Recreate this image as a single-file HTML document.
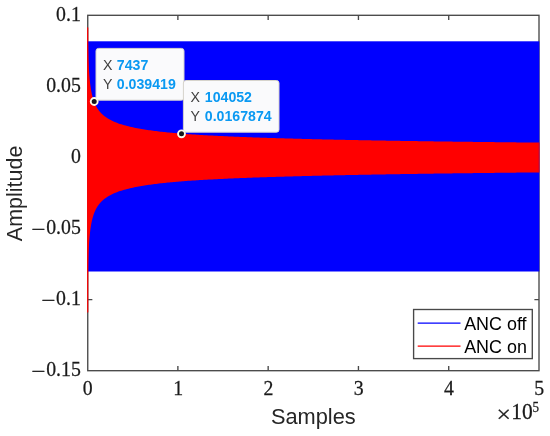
<!DOCTYPE html>
<html><head><meta charset="utf-8"><title>ANC plot</title>
<style>
html,body{margin:0;padding:0;background:#fff;}
body{width:550px;height:436px;overflow:hidden;}
svg{display:block;}
.tk{font-family:"Liberation Serif",serif;font-size:19.8px;fill:#1a1a1a;stroke:#1a1a1a;stroke-width:0.25px;}
.lb{font-family:"Liberation Sans",sans-serif;font-size:21.8px;fill:#262626;}
.lg{font-family:"Liberation Sans",sans-serif;font-size:17.9px;fill:#000;}
.tt{font-family:"Liberation Sans",sans-serif;font-size:14.15px;fill:#404040;}
.tv{font-weight:bold;fill:#0a99f2;}
</style></head><body>
<svg width="550" height="436" viewBox="0 0 550 436">
<rect width="550" height="436" fill="#fff"/>
<rect x="87.75" y="15.3" width="451.25" height="355.4" fill="#fff" stroke="#484848" stroke-width="1.35"/>
<path d="M177.88,370.7v-4.6M177.88,15.3v4.6" stroke="#484848" stroke-width="1.35" fill="none"/>
<path d="M268.16,370.7v-4.6M268.16,15.3v4.6" stroke="#484848" stroke-width="1.35" fill="none"/>
<path d="M358.44,370.7v-4.6M358.44,15.3v4.6" stroke="#484848" stroke-width="1.35" fill="none"/>
<path d="M448.72,370.7v-4.6M448.72,15.3v4.6" stroke="#484848" stroke-width="1.35" fill="none"/>
<path d="M87.75,86.42h4.6M539.0,86.42h-4.6" stroke="#484848" stroke-width="1.35" fill="none"/>
<path d="M87.75,157.50h4.6M539.0,157.50h-4.6" stroke="#484848" stroke-width="1.35" fill="none"/>
<path d="M87.75,228.58h4.6M539.0,228.58h-4.6" stroke="#484848" stroke-width="1.35" fill="none"/>
<path d="M87.75,299.66h4.6M539.0,299.66h-4.6" stroke="#484848" stroke-width="1.35" fill="none"/>
<rect x="87.95" y="41.3" width="451.4" height="230.2" fill="#0000ff"/>
<rect x="87.2" y="27.5" width="1.1" height="284.9" fill="#ff0000"/>
<path d="M87.30,27.57 L87.39,27.57 L87.48,27.57 L87.57,27.57 L87.66,27.57 L87.75,27.57 L87.84,31.16 L87.94,37.30 L88.03,42.39 L88.12,46.69 L88.21,50.41 L88.30,53.66 L88.39,56.54 L88.48,59.12 L88.57,61.45 L88.66,63.58 L88.75,65.52 L88.84,67.30 L88.93,68.96 L89.02,70.49 L89.11,71.92 L89.21,73.26 L89.30,74.52 L89.39,75.71 L89.48,76.83 L89.57,77.89 L89.66,78.89 L89.75,79.84 L89.84,80.75 L89.93,81.62 L90.02,82.45 L90.11,83.24 L90.20,84.00 L90.29,84.73 L90.38,85.43 L90.48,86.10 L90.57,86.75 L90.66,87.37 L90.75,87.97 L90.84,88.56 L90.93,89.12 L91.02,89.66 L91.11,90.19 L91.20,90.70 L91.29,91.20 L91.38,91.68 L91.47,92.14 L91.56,92.60 L91.66,93.04 L91.75,93.47 L91.84,93.88 L91.93,94.29 L92.02,94.68 L92.11,95.07 L92.20,95.45 L92.29,95.81 L92.38,96.17 L92.47,96.52 L92.56,96.87 L92.65,97.20 L92.74,97.53 L92.83,97.85 L92.93,98.16 L93.02,98.47 L93.11,98.77 L93.20,99.06 L93.29,99.35 L93.38,99.63 L93.47,99.91 L93.56,100.18 L93.65,100.45 L93.74,100.71 L93.83,100.96 L93.92,101.22 L94.01,101.46 L94.11,101.71 L94.20,101.94 L94.29,102.18 L94.38,102.41 L94.47,102.64 L94.56,102.86 L94.65,103.08 L94.74,103.29 L94.83,103.51 L94.92,103.71 L95.01,103.92 L95.10,104.12 L95.19,104.32 L95.28,104.52 L95.38,104.71 L95.47,104.90 L95.56,105.09 L95.65,105.27 L95.74,105.46 L95.83,105.64 L95.92,105.81 L96.01,105.99 L96.10,106.16 L96.19,106.33 L96.28,106.50 L96.37,106.66 L96.46,106.83 L96.55,106.99 L96.65,107.15 L96.74,107.31 L96.83,107.46 L96.92,107.61 L97.01,107.77 L97.10,107.92 L97.19,108.06 L97.28,108.21 L97.37,108.35 L97.46,108.50 L97.55,108.64 L97.64,108.78 L97.73,108.91 L97.83,109.05 L97.92,109.18 L98.01,109.32 L98.10,109.45 L98.19,109.58 L98.28,109.71 L98.37,109.83 L98.46,109.96 L98.55,110.08 L98.64,110.21 L98.73,110.33 L98.82,110.45 L98.91,110.57 L99.00,110.69 L99.10,110.80 L99.19,110.92 L99.28,111.03 L99.37,111.15 L99.46,111.26 L99.55,111.37 L99.64,111.48 L99.73,111.59 L99.82,111.70 L99.91,111.80 L100.00,111.91 L100.09,112.01 L100.18,112.12 L100.27,112.22 L100.37,112.32 L100.46,112.42 L100.55,112.52 L100.64,112.62 L100.73,112.72 L100.82,112.82 L100.91,112.92 L101.00,113.01 L101.09,113.11 L101.18,113.20 L101.27,113.29 L101.36,113.39 L101.45,113.48 L101.55,113.57 L101.64,113.66 L101.73,113.75 L101.82,113.84 L101.91,113.93 L102.00,114.01 L102.09,114.10 L102.18,114.18 L102.27,114.27 L102.36,114.35 L102.45,114.44 L102.54,114.52 L102.63,114.60 L102.72,114.69 L102.82,114.77 L102.91,114.85 L103.00,114.93 L103.09,115.01 L103.18,115.09 L103.27,115.16 L103.36,115.24 L103.45,115.32 L103.54,115.39 L103.63,115.47 L103.72,115.55 L103.81,115.62 L103.90,115.69 L103.99,115.77 L104.09,115.84 L104.18,115.91 L104.27,115.99 L104.36,116.06 L104.45,116.13 L104.54,116.20 L104.63,116.27 L104.72,116.34 L104.81,116.41 L104.90,116.48 L104.99,116.54 L105.08,116.61 L105.17,116.68 L105.27,116.75 L105.36,116.81 L106.81,117.82 L108.25,118.73 L109.70,119.56 L111.15,120.32 L112.60,121.02 L114.05,121.67 L115.50,122.28 L116.95,122.85 L118.40,123.38 L119.85,123.88 L121.30,124.35 L122.75,124.79 L124.20,125.21 L125.65,125.61 L127.10,125.99 L128.54,126.36 L129.99,126.70 L131.44,127.03 L132.89,127.35 L134.34,127.65 L135.79,127.95 L137.24,128.23 L138.69,128.50 L140.14,128.76 L141.59,129.01 L143.04,129.25 L144.49,129.48 L145.94,129.71 L147.39,129.93 L148.84,130.14 L150.28,130.34 L151.73,130.54 L153.18,130.74 L154.63,130.92 L156.08,131.11 L157.53,131.28 L158.98,131.46 L160.43,131.63 L161.88,131.79 L163.33,131.95 L164.78,132.10 L166.23,132.26 L167.68,132.40 L169.13,132.55 L170.57,132.69 L172.02,132.83 L173.47,132.96 L174.92,133.10 L176.37,133.22 L177.82,133.35 L179.27,133.48 L180.72,133.60 L182.17,133.71 L183.62,133.81 L185.07,133.92 L186.52,134.02 L187.97,134.13 L189.42,134.23 L190.87,134.32 L192.31,134.42 L193.76,134.51 L195.21,134.61 L196.66,134.70 L198.11,134.79 L199.56,134.88 L201.01,134.96 L202.46,135.05 L203.91,135.13 L205.36,135.22 L206.81,135.30 L208.26,135.38 L209.71,135.46 L211.16,135.53 L212.61,135.61 L214.05,135.69 L215.50,135.76 L216.95,135.83 L218.40,135.91 L219.85,135.98 L221.30,136.05 L222.75,136.12 L224.20,136.18 L225.65,136.25 L227.10,136.32 L228.55,136.38 L230.00,136.45 L231.45,136.51 L232.90,136.57 L234.34,136.64 L235.79,136.70 L237.24,136.76 L238.69,136.82 L240.14,136.88 L241.59,136.94 L243.04,136.99 L244.49,137.05 L245.94,137.11 L247.39,137.16 L248.84,137.22 L250.29,137.27 L251.74,137.32 L253.19,137.38 L254.64,137.43 L256.08,137.48 L257.53,137.53 L258.98,137.58 L260.43,137.63 L261.88,137.68 L263.33,137.73 L264.78,137.78 L266.23,137.83 L267.68,137.88 L269.13,137.92 L270.58,137.97 L272.03,138.02 L273.48,138.06 L274.93,138.11 L276.37,138.15 L277.82,138.20 L279.27,138.24 L280.72,138.28 L282.17,138.33 L283.62,138.37 L285.07,138.41 L286.52,138.45 L287.97,138.49 L289.42,138.54 L290.87,138.58 L292.32,138.62 L293.77,138.66 L295.22,138.70 L296.67,138.74 L298.11,138.77 L299.56,138.81 L301.01,138.85 L302.46,138.89 L303.91,138.93 L305.36,138.96 L306.81,139.00 L308.26,139.04 L309.71,139.07 L311.16,139.11 L312.61,139.14 L314.06,139.18 L315.51,139.21 L316.96,139.25 L318.40,139.28 L319.85,139.32 L321.30,139.35 L322.75,139.38 L324.20,139.42 L325.65,139.45 L327.10,139.48 L328.55,139.52 L330.00,139.55 L331.45,139.58 L332.90,139.61 L334.35,139.64 L335.80,139.68 L337.25,139.71 L338.70,139.74 L340.14,139.77 L341.59,139.80 L343.04,139.83 L344.49,139.86 L345.94,139.89 L347.39,139.92 L348.84,139.95 L350.29,139.98 L351.74,140.00 L353.19,140.03 L354.64,140.06 L356.09,140.09 L357.54,140.12 L358.99,140.15 L360.43,140.17 L361.88,140.20 L363.33,140.23 L364.78,140.26 L366.23,140.28 L367.68,140.31 L369.13,140.34 L370.58,140.36 L372.03,140.39 L373.48,140.41 L374.93,140.44 L376.38,140.47 L377.83,140.49 L379.28,140.52 L380.73,140.54 L382.17,140.57 L383.62,140.59 L385.07,140.62 L386.52,140.64 L387.97,140.67 L389.42,140.69 L390.87,140.71 L392.32,140.74 L393.77,140.76 L395.22,140.79 L396.67,140.81 L398.12,140.83 L399.57,140.86 L401.02,140.88 L402.46,140.90 L403.91,140.92 L405.36,140.95 L406.81,140.97 L408.26,140.99 L409.71,141.01 L411.16,141.04 L412.61,141.06 L414.06,141.08 L415.51,141.10 L416.96,141.12 L418.41,141.15 L419.86,141.17 L421.31,141.19 L422.76,141.21 L424.20,141.23 L425.65,141.25 L427.10,141.27 L428.55,141.29 L430.00,141.31 L431.45,141.33 L432.90,141.35 L434.35,141.38 L435.80,141.40 L437.25,141.42 L438.70,141.44 L440.15,141.46 L441.60,141.47 L443.05,141.49 L444.49,141.51 L445.94,141.53 L447.39,141.55 L448.84,141.57 L450.29,141.59 L451.74,141.61 L453.19,141.63 L454.64,141.65 L456.09,141.67 L457.54,141.69 L458.99,141.70 L460.44,141.72 L461.89,141.74 L463.34,141.76 L464.79,141.78 L466.23,141.79 L467.68,141.81 L469.13,141.83 L470.58,141.85 L472.03,141.87 L473.48,141.88 L474.93,141.90 L476.38,141.92 L477.83,141.94 L479.28,141.95 L480.73,141.97 L482.18,141.99 L483.63,142.00 L485.08,142.02 L486.52,142.04 L487.97,142.06 L489.42,142.07 L490.87,142.09 L492.32,142.11 L493.77,142.12 L495.22,142.14 L496.67,142.15 L498.12,142.17 L499.57,142.19 L501.02,142.20 L502.47,142.22 L503.92,142.24 L505.37,142.25 L506.82,142.27 L508.26,142.28 L509.71,142.30 L511.16,142.31 L512.61,142.33 L514.06,142.34 L515.51,142.36 L516.96,142.38 L518.41,142.39 L519.86,142.41 L521.31,142.42 L522.76,142.44 L524.21,142.45 L525.66,142.47 L527.11,142.48 L528.55,142.50 L530.00,142.51 L531.45,142.53 L532.90,142.54 L534.35,142.55 L535.80,142.57 L537.25,142.58 L538.70,142.60 L538.70,172.40 L537.25,172.42 L535.80,172.43 L534.35,172.45 L532.90,172.46 L531.45,172.47 L530.00,172.49 L528.55,172.50 L527.11,172.52 L525.66,172.53 L524.21,172.55 L522.76,172.56 L521.31,172.58 L519.86,172.59 L518.41,172.61 L516.96,172.62 L515.51,172.64 L514.06,172.66 L512.61,172.67 L511.16,172.69 L509.71,172.70 L508.26,172.72 L506.82,172.73 L505.37,172.75 L503.92,172.76 L502.47,172.78 L501.02,172.80 L499.57,172.81 L498.12,172.83 L496.67,172.85 L495.22,172.86 L493.77,172.88 L492.32,172.89 L490.87,172.91 L489.42,172.93 L487.97,172.94 L486.52,172.96 L485.08,172.98 L483.63,173.00 L482.18,173.01 L480.73,173.03 L479.28,173.05 L477.83,173.06 L476.38,173.08 L474.93,173.10 L473.48,173.12 L472.03,173.13 L470.58,173.15 L469.13,173.17 L467.68,173.19 L466.23,173.21 L464.79,173.22 L463.34,173.24 L461.89,173.26 L460.44,173.28 L458.99,173.30 L457.54,173.31 L456.09,173.33 L454.64,173.35 L453.19,173.37 L451.74,173.39 L450.29,173.41 L448.84,173.43 L447.39,173.45 L445.94,173.47 L444.49,173.49 L443.05,173.51 L441.60,173.53 L440.15,173.54 L438.70,173.56 L437.25,173.58 L435.80,173.60 L434.35,173.62 L432.90,173.65 L431.45,173.67 L430.00,173.69 L428.55,173.71 L427.10,173.73 L425.65,173.75 L424.20,173.77 L422.76,173.79 L421.31,173.81 L419.86,173.83 L418.41,173.85 L416.96,173.88 L415.51,173.90 L414.06,173.92 L412.61,173.94 L411.16,173.96 L409.71,173.99 L408.26,174.01 L406.81,174.03 L405.36,174.05 L403.91,174.08 L402.46,174.10 L401.02,174.12 L399.57,174.14 L398.12,174.17 L396.67,174.19 L395.22,174.21 L393.77,174.24 L392.32,174.26 L390.87,174.29 L389.42,174.31 L387.97,174.33 L386.52,174.36 L385.07,174.38 L383.62,174.41 L382.17,174.43 L380.73,174.46 L379.28,174.48 L377.83,174.51 L376.38,174.53 L374.93,174.56 L373.48,174.59 L372.03,174.61 L370.58,174.64 L369.13,174.66 L367.68,174.69 L366.23,174.72 L364.78,174.74 L363.33,174.77 L361.88,174.80 L360.43,174.83 L358.99,174.85 L357.54,174.88 L356.09,174.91 L354.64,174.94 L353.19,174.97 L351.74,175.00 L350.29,175.02 L348.84,175.05 L347.39,175.08 L345.94,175.11 L344.49,175.14 L343.04,175.17 L341.59,175.20 L340.14,175.23 L338.70,175.26 L337.25,175.29 L335.80,175.32 L334.35,175.36 L332.90,175.39 L331.45,175.42 L330.00,175.45 L328.55,175.48 L327.10,175.52 L325.65,175.55 L324.20,175.58 L322.75,175.62 L321.30,175.65 L319.85,175.68 L318.40,175.72 L316.96,175.75 L315.51,175.79 L314.06,175.82 L312.61,175.86 L311.16,175.89 L309.71,175.93 L308.26,175.96 L306.81,176.00 L305.36,176.04 L303.91,176.07 L302.46,176.11 L301.01,176.15 L299.56,176.19 L298.11,176.23 L296.67,176.26 L295.22,176.30 L293.77,176.34 L292.32,176.38 L290.87,176.42 L289.42,176.46 L287.97,176.51 L286.52,176.55 L285.07,176.59 L283.62,176.63 L282.17,176.67 L280.72,176.72 L279.27,176.76 L277.82,176.80 L276.37,176.85 L274.93,176.89 L273.48,176.94 L272.03,176.98 L270.58,177.03 L269.13,177.08 L267.68,177.12 L266.23,177.17 L264.78,177.22 L263.33,177.27 L261.88,177.32 L260.43,177.37 L258.98,177.42 L257.53,177.47 L256.08,177.52 L254.64,177.57 L253.19,177.62 L251.74,177.68 L250.29,177.73 L248.84,177.78 L247.39,177.84 L245.94,177.89 L244.49,177.95 L243.04,178.01 L241.59,178.06 L240.14,178.12 L238.69,178.18 L237.24,178.24 L235.79,178.30 L234.34,178.36 L232.90,178.43 L231.45,178.49 L230.00,178.55 L228.55,178.62 L227.10,178.68 L225.65,178.75 L224.20,178.82 L222.75,178.88 L221.30,178.95 L219.85,179.02 L218.40,179.09 L216.95,179.17 L215.50,179.24 L214.05,179.31 L212.61,179.39 L211.16,179.47 L209.71,179.54 L208.26,179.62 L206.81,179.70 L205.36,179.78 L203.91,179.87 L202.46,179.95 L201.01,180.04 L199.56,180.12 L198.11,180.21 L196.66,180.30 L195.21,180.39 L193.76,180.49 L192.31,180.58 L190.87,180.68 L189.42,180.77 L187.97,180.87 L186.52,180.98 L185.07,181.08 L183.62,181.19 L182.17,181.29 L180.72,181.40 L179.27,181.52 L177.82,181.65 L176.37,181.78 L174.92,181.90 L173.47,182.04 L172.02,182.17 L170.57,182.31 L169.13,182.45 L167.68,182.60 L166.23,182.74 L164.78,182.90 L163.33,183.05 L161.88,183.21 L160.43,183.37 L158.98,183.54 L157.53,183.72 L156.08,183.89 L154.63,184.08 L153.18,184.26 L151.73,184.46 L150.28,184.66 L148.84,184.86 L147.39,185.07 L145.94,185.29 L144.49,185.52 L143.04,185.75 L141.59,185.99 L140.14,186.24 L138.69,186.50 L137.24,186.77 L135.79,187.05 L134.34,187.35 L132.89,187.65 L131.44,187.97 L129.99,188.30 L128.54,188.64 L127.10,189.01 L125.65,189.39 L124.20,189.79 L122.75,190.21 L121.30,190.65 L119.85,191.12 L118.40,191.62 L116.95,192.15 L115.50,192.72 L114.05,193.33 L112.60,193.98 L111.15,194.68 L109.70,195.44 L108.25,196.27 L106.81,197.18 L105.36,198.19 L105.27,198.25 L105.17,198.32 L105.08,198.39 L104.99,198.46 L104.90,198.52 L104.81,198.59 L104.72,198.66 L104.63,198.73 L104.54,198.80 L104.45,198.87 L104.36,198.94 L104.27,199.01 L104.18,199.09 L104.09,199.16 L103.99,199.23 L103.90,199.31 L103.81,199.38 L103.72,199.45 L103.63,199.53 L103.54,199.61 L103.45,199.68 L103.36,199.76 L103.27,199.84 L103.18,199.91 L103.09,199.99 L103.00,200.07 L102.91,200.15 L102.82,200.23 L102.72,200.31 L102.63,200.40 L102.54,200.48 L102.45,200.56 L102.36,200.65 L102.27,200.73 L102.18,200.82 L102.09,200.90 L102.00,200.99 L101.91,201.07 L101.82,201.16 L101.73,201.25 L101.64,201.34 L101.55,201.43 L101.45,201.52 L101.36,201.61 L101.27,201.71 L101.18,201.80 L101.09,201.89 L101.00,201.99 L100.91,202.08 L100.82,202.18 L100.73,202.28 L100.64,202.38 L100.55,202.48 L100.46,202.58 L100.37,202.68 L100.27,202.78 L100.18,202.88 L100.09,202.99 L100.00,203.09 L99.91,203.20 L99.82,203.30 L99.73,203.41 L99.64,203.52 L99.55,203.63 L99.46,203.74 L99.37,203.85 L99.28,203.97 L99.19,204.08 L99.10,204.20 L99.00,204.31 L98.91,204.43 L98.82,204.55 L98.73,204.67 L98.64,204.79 L98.55,204.92 L98.46,205.04 L98.37,205.17 L98.28,205.29 L98.19,205.42 L98.10,205.55 L98.01,205.68 L97.92,205.82 L97.83,205.95 L97.73,206.09 L97.64,206.22 L97.55,206.36 L97.46,206.50 L97.37,206.65 L97.28,206.79 L97.19,206.94 L97.10,207.08 L97.01,207.23 L96.92,207.39 L96.83,207.54 L96.74,207.69 L96.65,207.85 L96.55,208.01 L96.46,208.17 L96.37,208.34 L96.28,208.50 L96.19,208.67 L96.10,208.84 L96.01,209.01 L95.92,209.19 L95.83,209.36 L95.74,209.54 L95.65,209.73 L95.56,209.91 L95.47,210.10 L95.38,210.29 L95.28,210.48 L95.19,210.68 L95.10,210.88 L95.01,211.08 L94.92,211.29 L94.83,211.49 L94.74,211.71 L94.65,211.92 L94.56,212.14 L94.47,212.36 L94.38,212.59 L94.29,212.82 L94.20,213.06 L94.11,213.29 L94.01,213.54 L93.92,213.78 L93.83,214.04 L93.74,214.29 L93.65,214.55 L93.56,214.82 L93.47,215.09 L93.38,215.37 L93.29,215.65 L93.20,215.94 L93.11,216.23 L93.02,216.53 L92.93,216.84 L92.83,217.15 L92.74,217.47 L92.65,217.80 L92.56,218.13 L92.47,218.48 L92.38,218.83 L92.29,219.19 L92.20,219.55 L92.11,219.93 L92.02,220.32 L91.93,220.71 L91.84,221.12 L91.75,221.53 L91.66,221.96 L91.56,222.40 L91.47,222.86 L91.38,223.32 L91.29,223.80 L91.20,224.30 L91.11,224.81 L91.02,225.34 L90.93,225.88 L90.84,226.44 L90.75,227.03 L90.66,227.63 L90.57,228.25 L90.48,228.90 L90.38,229.57 L90.29,230.27 L90.20,231.00 L90.11,231.76 L90.02,232.55 L89.93,233.38 L89.84,234.25 L89.75,235.16 L89.66,236.11 L89.57,237.11 L89.48,238.17 L89.39,239.29 L89.30,240.48 L89.21,241.74 L89.11,243.08 L89.02,244.51 L88.93,246.04 L88.84,247.70 L88.75,249.48 L88.66,251.42 L88.57,253.55 L88.48,255.88 L88.39,258.46 L88.30,261.34 L88.21,264.59 L88.12,268.31 L88.03,272.61 L87.94,277.70 L87.84,283.84 L87.75,291.52 L87.66,301.56 L87.57,312.45 L87.48,312.45 L87.39,312.45 L87.30,312.45Z" fill="#ff0000"/>
<rect x="538.4" y="142.60" width="1.1" height="29.80" fill="#ff0000"/>
<text class="tk" transform="translate(87.80,394.50) scale(1.0,1.01)" text-anchor="middle">0</text>
<text class="tk" transform="translate(178.08,394.50) scale(1.0,1.01)" text-anchor="middle">1</text>
<text class="tk" transform="translate(268.36,394.50) scale(1.0,1.01)" text-anchor="middle">2</text>
<text class="tk" transform="translate(358.64,394.50) scale(1.0,1.01)" text-anchor="middle">3</text>
<text class="tk" transform="translate(448.92,394.50) scale(1.0,1.01)" text-anchor="middle">4</text>
<text class="tk" transform="translate(539.20,394.50) scale(1.0,1.01)" text-anchor="middle">5</text>
<text class="tk" transform="translate(80.80,20.64) scale(1.0,1.01)" text-anchor="end">0.1</text>
<text class="tk" transform="translate(80.80,91.72) scale(1.0,1.01)" text-anchor="end">0.05</text>
<text class="tk" transform="translate(80.80,162.80) scale(1.0,1.01)" text-anchor="end">0</text>
<text class="tk" transform="translate(80.80,233.88) scale(1.0,1.01)" text-anchor="end">0.05</text>
<text class="tk" transform="translate(45.55,235.58) scale(1.27,1.0)" text-anchor="end">−</text>
<text class="tk" transform="translate(80.80,304.96) scale(1.0,1.01)" text-anchor="end">0.1</text>
<text class="tk" transform="translate(55.45,306.66) scale(1.27,1.0)" text-anchor="end">−</text>
<text class="tk" transform="translate(80.80,376.04) scale(1.0,1.01)" text-anchor="end">0.15</text>
<text class="tk" transform="translate(45.55,377.74) scale(1.27,1.0)" text-anchor="end">−</text>
<text class="tk" transform="translate(496.40,421.60) scale(1.25,1.1)" text-anchor="start" style="font-size:20.5px">×</text>
<text class="tk" transform="translate(511.20,419.30) scale(1.01,1.06)" text-anchor="start" style="font-size:21.3px">10</text>
<text class="tk" transform="translate(532.60,411.90) scale(0.92,1.0)" text-anchor="start" style="font-size:14.2px">5</text>
<text class="lb" x="313.3" y="424.0" text-anchor="middle">Samples</text>
<text class="lb" style="font-size:21.5px" transform="translate(22.2,193.4) rotate(-90)" text-anchor="middle">Amplitude</text>
<rect x="413.6" y="309.5" width="118.7" height="49.1" fill="#fff" stroke="#484848" stroke-width="1.35"/>
<path d="M417.7,323.1H460.5" stroke="#0000ff" stroke-width="1.1"/>
<path d="M417.7,346.1H460.5" stroke="#ff0000" stroke-width="1.1"/>
<text class="lg" x="464.2" y="329.8">ANC off</text>
<text class="lg" x="464.2" y="352.8">ANC on</text>
<rect x="96" y="48.4" width="88" height="51.8" rx="2.5" ry="2.5" fill="#fafafc" stroke="#d6d3cc" stroke-width="1"/>
<text class="tt" x="102.9" y="70">X <tspan class="tv" x="116.8">7437</tspan></text>
<text class="tt" x="102.9" y="89.3">Y <tspan class="tv" x="116.8">0.039419</tspan></text>
<rect x="183.4" y="80.5" width="95.6" height="51.7" rx="2.5" ry="2.5" fill="#fafafc" stroke="#d6d3cc" stroke-width="1"/>
<text class="tt" x="190.5" y="102.2">X <tspan class="tv" x="204.8">104052</tspan></text>
<text class="tt" x="190.5" y="121.4">Y <tspan class="tv" x="204.8">0.0167874</tspan></text>
<circle cx="94.2" cy="101.5" r="3.45" fill="#15151a" stroke="#fbfbea" stroke-width="1.9"/>
<circle cx="181.5" cy="133.8" r="3.45" fill="#15151a" stroke="#fbfbea" stroke-width="1.9"/>
</svg></body></html>
